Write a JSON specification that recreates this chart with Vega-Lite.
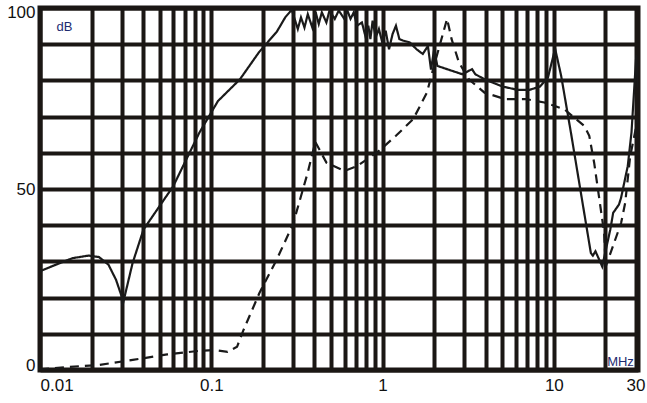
{
  "$schema": "https://vega.github.io/schema/vega-lite/v6.json",
  "width": 598,
  "height": 362,
  "autosize": {"type": "none"},
  "padding": {"left": 40, "top": 8, "right": 9, "bottom": 33},
  "background": "white",
  "config": {
    "view": {"stroke": "#1b1714", "strokeWidth": 5},
    "font": "Liberation Sans"
  },
  "datasets": {
    "curves": [
      {"s": "solid", "f": 0.01, "db": 27.3},
      {"s": "solid", "f": 0.013, "db": 29.5},
      {"s": "solid", "f": 0.0155, "db": 30.9},
      {"s": "solid", "f": 0.0192, "db": 31.6},
      {"s": "solid", "f": 0.0221, "db": 31.2},
      {"s": "solid", "f": 0.0251, "db": 29.1},
      {"s": "solid", "f": 0.0278, "db": 24.9},
      {"s": "solid", "f": 0.03, "db": 20.3},
      {"s": "solid", "f": 0.0302, "db": 17.5},
      {"s": "solid", "f": 0.0347, "db": 29.5},
      {"s": "solid", "f": 0.0402, "db": 38.8},
      {"s": "solid", "f": 0.06, "db": 50.8},
      {"s": "solid", "f": 0.0853, "db": 65.6},
      {"s": "solid", "f": 0.1094, "db": 74.3},
      {"s": "solid", "f": 0.147, "db": 80.3},
      {"s": "solid", "f": 0.19, "db": 87.8},
      {"s": "solid", "f": 0.241, "db": 93.4},
      {"s": "solid", "f": 0.271, "db": 97.5},
      {"s": "solid", "f": 0.295, "db": 99.5},
      {"s": "solid", "f": 0.32, "db": 94.2},
      {"s": "solid", "f": 0.334, "db": 97.4},
      {"s": "solid", "f": 0.35, "db": 94.6},
      {"s": "solid", "f": 0.366, "db": 98.3},
      {"s": "solid", "f": 0.389, "db": 94.6},
      {"s": "solid", "f": 0.407, "db": 98.8},
      {"s": "solid", "f": 0.424, "db": 95.6},
      {"s": "solid", "f": 0.442, "db": 98.8},
      {"s": "solid", "f": 0.47, "db": 96},
      {"s": "solid", "f": 0.49, "db": 99.3},
      {"s": "solid", "f": 0.526, "db": 97},
      {"s": "solid", "f": 0.555, "db": 99.3},
      {"s": "solid", "f": 0.598, "db": 97},
      {"s": "solid", "f": 0.623, "db": 99.3},
      {"s": "solid", "f": 0.65, "db": 97},
      {"s": "solid", "f": 0.679, "db": 98.8},
      {"s": "solid", "f": 0.709, "db": 95.1},
      {"s": "solid", "f": 0.758, "db": 96},
      {"s": "solid", "f": 0.793, "db": 92.3},
      {"s": "solid", "f": 0.826, "db": 95.1},
      {"s": "solid", "f": 0.849, "db": 91.4},
      {"s": "solid", "f": 0.875, "db": 96.5},
      {"s": "solid", "f": 0.912, "db": 91.9},
      {"s": "solid", "f": 0.952, "db": 94.2},
      {"s": "solid", "f": 0.996, "db": 90.5},
      {"s": "solid", "f": 1.043, "db": 93.7},
      {"s": "solid", "f": 1.091, "db": 88.6},
      {"s": "solid", "f": 1.144, "db": 92.8},
      {"s": "solid", "f": 1.197, "db": 95.1},
      {"s": "solid", "f": 1.254, "db": 91.4},
      {"s": "solid", "f": 1.314, "db": 91},
      {"s": "solid", "f": 1.44, "db": 90.5},
      {"s": "solid", "f": 1.58, "db": 88.6},
      {"s": "solid", "f": 1.717, "db": 87.3},
      {"s": "solid", "f": 1.84, "db": 89.5},
      {"s": "solid", "f": 1.918, "db": 83},
      {"s": "solid", "f": 2.0, "db": 88.5},
      {"s": "solid", "f": 2.089, "db": 84},
      {"s": "solid", "f": 2.92, "db": 81.7},
      {"s": "solid", "f": 3.33, "db": 83.1},
      {"s": "solid", "f": 3.48, "db": 81.7},
      {"s": "solid", "f": 3.94, "db": 80.3},
      {"s": "solid", "f": 5.02, "db": 78.3},
      {"s": "solid", "f": 6.14, "db": 77.4},
      {"s": "solid", "f": 7.22, "db": 77.4},
      {"s": "solid", "f": 8.31, "db": 78.3},
      {"s": "solid", "f": 9.24, "db": 80.8},
      {"s": "solid", "f": 9.83, "db": 85.9},
      {"s": "solid", "f": 10.17, "db": 88.8},
      {"s": "solid", "f": 11.03, "db": 81.3},
      {"s": "solid", "f": 12.59, "db": 65.5},
      {"s": "solid", "f": 14.39, "db": 48.9},
      {"s": "solid", "f": 16.45, "db": 32.3},
      {"s": "solid", "f": 16.9, "db": 31.6},
      {"s": "solid", "f": 17.5, "db": 32.8},
      {"s": "solid", "f": 19.16, "db": 28.6},
      {"s": "solid", "f": 21.36, "db": 38.8},
      {"s": "solid", "f": 22.2, "db": 43.4},
      {"s": "solid", "f": 24.0, "db": 45.7},
      {"s": "solid", "f": 24.7, "db": 47.6},
      {"s": "solid", "f": 27.0, "db": 56.3},
      {"s": "solid", "f": 28.4, "db": 65.6},
      {"s": "solid", "f": 30.3, "db": 87},
      {"s": "solid", "f": 31, "db": 78},
      {"s": "dashed", "f": 0.01, "db": 0.2},
      {"s": "dashed", "f": 0.0142, "db": 0.8},
      {"s": "dashed", "f": 0.0222, "db": 1.4},
      {"s": "dashed", "f": 0.0348, "db": 2.8},
      {"s": "dashed", "f": 0.0553, "db": 4.3},
      {"s": "dashed", "f": 0.0853, "db": 5.3},
      {"s": "dashed", "f": 0.1049, "db": 5.5},
      {"s": "dashed", "f": 0.1244, "db": 5.0},
      {"s": "dashed", "f": 0.1414, "db": 6.4},
      {"s": "dashed", "f": 0.1541, "db": 11},
      {"s": "dashed", "f": 0.1907, "db": 21.2},
      {"s": "dashed", "f": 0.241, "db": 30.5},
      {"s": "dashed", "f": 0.3, "db": 40.3},
      {"s": "dashed", "f": 0.3655, "db": 54.5},
      {"s": "dashed", "f": 0.405, "db": 63},
      {"s": "dashed", "f": 0.47, "db": 57.3},
      {"s": "dashed", "f": 0.598, "db": 55},
      {"s": "dashed", "f": 0.709, "db": 56.3},
      {"s": "dashed", "f": 0.952, "db": 60.5},
      {"s": "dashed", "f": 1.197, "db": 64.7},
      {"s": "dashed", "f": 1.509, "db": 69.3},
      {"s": "dashed", "f": 1.815, "db": 76.6},
      {"s": "dashed", "f": 1.996, "db": 84},
      {"s": "dashed", "f": 2.38, "db": 97},
      {"s": "dashed", "f": 2.53, "db": 91.4},
      {"s": "dashed", "f": 2.79, "db": 85},
      {"s": "dashed", "f": 3.19, "db": 80.3},
      {"s": "dashed", "f": 3.94, "db": 76.6},
      {"s": "dashed", "f": 5.23, "db": 74.8},
      {"s": "dashed", "f": 6.91, "db": 74.8},
      {"s": "dashed", "f": 8.81, "db": 73.9},
      {"s": "dashed", "f": 11.53, "db": 72},
      {"s": "dashed", "f": 15.06, "db": 67.4},
      {"s": "dashed", "f": 16.1, "db": 64.7},
      {"s": "dashed", "f": 17.2, "db": 57.2},
      {"s": "dashed", "f": 18.4, "db": 47.5},
      {"s": "dashed", "f": 19.66, "db": 37.9},
      {"s": "dashed", "f": 20.1, "db": 28.6},
      {"s": "dashed", "f": 24.7, "db": 40.6},
      {"s": "dashed", "f": 26.1, "db": 46.2},
      {"s": "dashed", "f": 27.9, "db": 59},
      {"s": "dashed", "f": 30.3, "db": 67.4},
      {"s": "dashed", "f": 31, "db": 69.3}
    ],
    "notes": [
      {"f": 0.0139, "db": 94.7, "text": "dB"},
      {"f": 24.5, "db": 2.2, "text": "MHz"}
    ]
  },
  "encoding": {
    "x": {
      "field": "f",
      "type": "quantitative",
      "scale": {"type": "log", "domain": [0.01, 31], "nice": false},
      "axis": {
        "title": null,
        "values": [0.01, 0.02, 0.03, 0.04, 0.05, 0.06, 0.07, 0.08, 0.09, 0.1, 0.2, 0.3, 0.4, 0.5, 0.6, 0.7, 0.8, 0.9, 1, 2, 3, 4, 5, 6, 7, 8, 9, 10, 20, 30],
        "labelExpr": "datum.value == 0.01 ? '0.01' : datum.value == 0.1 ? '0.1' : datum.value == 1 ? '1' : datum.value == 10 ? '10' : datum.value == 30 ? '30' : ''",
        "grid": true,
        "gridColor": "#1b1714",
        "gridWidth": 4,
        "gridOpacity": 1,
        "ticks": false,
        "tickSize": 0,
        "domain": false,
        "labelFontSize": 17,
        "labelColor": "#111111",
        "labelPadding": 7,
        "labelOverlap": false,
        "labelBound": false,
        "labelAlign": {"condition": {"test": "datum.value < 0.011", "value": "left"}, "value": "center"}
      }
    },
    "y": {
      "field": "db",
      "type": "quantitative",
      "scale": {"domain": [0, 100], "nice": false},
      "axis": {
        "title": null,
        "values": [0, 10, 20, 30, 40, 50, 60, 70, 80, 90, 100],
        "labelExpr": "datum.value == 0 ? '0' : datum.value == 50 ? '50' : datum.value == 100 ? '100' : ''",
        "grid": true,
        "gridColor": "#1b1714",
        "gridWidth": 4,
        "gridOpacity": 1,
        "ticks": false,
        "tickSize": 0,
        "domain": false,
        "labelFontSize": 17,
        "labelColor": "#111111",
        "labelPadding": 5,
        "labelOverlap": false,
        "labelBound": false,
        "labelOffset": {"condition": [{"test": "datum.value == 100", "value": 4}, {"test": "datum.value == 0", "value": -5}], "value": 0}
      }
    }
  },
  "layer": [
    {
      "data": {"name": "curves"},
      "mark": {"type": "line", "color": "#1a1a1a", "strokeWidth": 2.2, "clip": true},
      "encoding": {
        "strokeDash": {
          "field": "s",
          "type": "nominal",
          "scale": {"domain": ["solid", "dashed"], "range": [[1, 0], [9, 6]]},
          "legend": null
        }
      }
    },
    {
      "data": {"name": "notes"},
      "mark": {"type": "text", "fontSize": 13, "color": "#1d2b70", "align": "center", "baseline": "middle", "font": "Liberation Sans"},
      "encoding": {"text": {"field": "text", "type": "nominal"}}
    }
  ]
}
